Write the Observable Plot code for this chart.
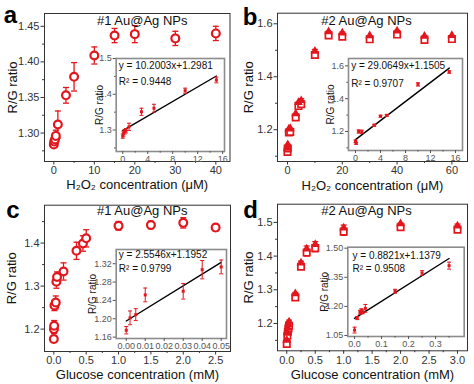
<!DOCTYPE html>
<html><head><meta charset="utf-8">
<script src="https://cdn.jsdelivr.net/npm/d3@7"></script>
<script src="https://cdn.jsdelivr.net/npm/@observablehq/plot@0.6"></script>
<style>
html,body{margin:0;padding:0;background:#fff;}
#fig{position:relative;width:474px;height:384px;overflow:hidden;background:#fff;}
</style></head><body><div id="fig"></div>
<script>
const RED = "#e3161d";
const FONT = '"Liberation Sans", Arial, Helvetica, sans-serif';

// ---------- Panel a : #1 Au@Ag NPs vs H2O2 ----------
const aX   = [0, 0.1, 0.3, 0.5, 1, 3, 5, 10, 15, 20, 30, 40];
const aY   = [1.284, 1.288, 1.291, 1.296, 1.312, 1.353, 1.379, 1.409, 1.437, 1.439, 1.433, 1.440];
const aErr = [0.004, 0.005, 0.006, 0.008, 0.019, 0.011, 0.02, 0.012, 0.01, 0.012, 0.01, 0.01];
const aInsetX   = [0, 0.1, 0.3, 0.5, 1, 3, 5, 10, 15];
const aInsetY   = [1.283, 1.290, 1.295, 1.298, 1.309, 1.351, 1.361, 1.410, 1.440];
const aInsetErr = [0.006, 0.007, 0.006, 0.006, 0.01, 0.01, 0.011, 0.007, 0.008];
const aFitSlope = 10.2003, aFitIntercept = 1.2981, aFitUnit = 0.001;
const aEq = ["y = 10.2003x+1.2981", "R² = 0.9448"];
const aXTicks = [0, 10, 20, 30, 40], aXMinor = [5, 15, 25, 35];
const aYTicks = [1.30, 1.35, 1.40, 1.45], aYMinor = [1.275, 1.325, 1.375, 1.425];
const aInXTicks = [0, 4, 8, 12, 16], aInXMinor = [2, 6, 10, 14];
const aInYTicks = [1.3, 1.4, 1.5], aInYMinor = [1.25, 1.35, 1.45];

// ---------- Panel b : #2 Au@Ag NPs vs H2O2 ----------
const bX   = [0, 0.1, 0.5, 1, 3, 4, 5, 10, 15, 20, 30, 40, 50, 60];
const bY   = [1.122, 1.135, 1.195, 1.197, 1.252, 1.295, 1.302, 1.488, 1.562, 1.557, 1.547, 1.565, 1.545, 1.548];
const bErr = [0.018, 0.01, 0.008, 0.008, 0.008, 0.01, 0.015, 0.015, 0.01, 0.012, 0.008, 0.01, 0.01, 0.006];
const bInsetX   = [0, 0.1, 0.5, 1, 3, 4, 5, 10, 15];
const bInsetY   = [1.140, 1.128, 1.200, 1.198, 1.238, 1.293, 1.298, 1.487, 1.563];
const bInsetErr = [0.008, 0.006, 0.01, 0.01, 0.006, 0.006, 0.006, 0.01, 0.008];
const bFitSlope = 29.0649, bFitIntercept = 1.1505, bFitUnit = 0.001;
const bEq = ["y = 29.0649x+1.1505", "R² = 0.9707"];
const bXTicks = [0, 20, 40, 60], bXMinor = [10, 30, 50];
const bYTicks = [1.2, 1.4, 1.6], bYMinor = [1.1, 1.3, 1.5];
const bInXTicks = [0, 4, 8, 12, 16], bInXMinor = [2, 6, 10, 14];
const bInYTicks = [1.2, 1.4, 1.6], bInYMinor = [1.1, 1.3, 1.5];

// ---------- Panel c : #1 Au@Ag NPs vs glucose ----------
const cX   = [0, 0.002, 0.005, 0.01, 0.03, 0.04, 0.05, 0.15, 0.35, 0.45, 0.5, 1.0, 1.5, 2.0, 2.5];
const cY   = [1.177, 1.200, 1.208, 1.255, 1.262, 1.310, 1.321, 1.334, 1.382, 1.399, 1.411, 1.440, 1.442, 1.447, 1.436];
const cErr = [0.008, 0.01, 0.012, 0.012, 0.015, 0.015, 0.012, 0.02, 0.02, 0.018, 0.02, 0.01, 0.009, 0.012, 0.008];
const cInsetX   = [0, 0.002, 0.005, 0.01, 0.03, 0.04, 0.05];
const cInsetY   = [1.175, 1.202, 1.209, 1.252, 1.260, 1.307, 1.313];
const cInsetErr = [0.008, 0.015, 0.013, 0.015, 0.017, 0.02, 0.015];
const cFitSlope = 2.5546, cFitIntercept = 1.1952, cFitUnit = 1;
const cEq = ["y = 2.5546x+1.1952", "R² = 0.9799"];
const cXTicks = [0, 0.5, 1.0, 1.5, 2.0, 2.5], cXMinor = [0.25, 0.75, 1.25, 1.75, 2.25];
const cYTicks = [1.2, 1.3, 1.4], cYMinor = [1.25, 1.35, 1.45];
const cInXTicks = [0, 0.01, 0.02, 0.03, 0.04, 0.05], cInXMinor = [];
const cInYTicks = [1.16, 1.20, 1.24, 1.28, 1.32], cInYMinor = [];

// ---------- Panel d : #2 Au@Ag NPs vs glucose ----------
const dX   = [0, 0.01, 0.02, 0.03, 0.04, 0.15, 0.25, 0.35, 0.5, 1.0, 2.0, 3.0];
const dY   = [1.144, 1.168, 1.180, 1.190, 1.198, 1.282, 1.373, 1.415, 1.428, 1.477, 1.490, 1.483];
const dErr = [0.008, 0.01, 0.012, 0.015, 0.012, 0.01, 0.012, 0.015, 0.015, 0.015, 0.008, 0.012];
const dInsetX   = [0, 0.01, 0.02, 0.025, 0.03, 0.04, 0.15, 0.25, 0.35];
const dInsetY   = [1.078, 1.140, 1.170, 1.176, 1.172, 1.190, 1.278, 1.372, 1.410];
const dInsetErr = [0.015, 0.008, 0.01, 0.012, 0.01, 0.02, 0.01, 0.012, 0.018];
const dFitSlope = 0.8821, dFitIntercept = 1.1379, dFitUnit = 1;
const dEq = ["y = 0.8821x+1.1379", "R² = 0.9508"];
const dXTicks = [0, 0.5, 1.0, 1.5, 2.0, 2.5, 3.0], dXMinor = [0.25, 0.75, 1.25, 1.75, 2.25, 2.75];
const dYTicks = [1.2, 1.3, 1.4, 1.5], dYMinor = [1.15, 1.25, 1.35, 1.45];
const dInXTicks = [0, 0.1, 0.2, 0.3], dInXMinor = [0.05, 0.15, 0.25, 0.35];
const dInYTicks = [1.05, 1.20, 1.35, 1.50], dInYMinor = [];

const titles = ["#1 Au@Ag NPs", "#2 Au@Ag NPs", "#1 Au@Ag NPs", "#2 Au@Ag NPs"];
const letters = ["a", "b", "c", "d"];
const xLabels = ["H₂O₂ concentration (μM)", "H₂O₂ concentration (μM)", "Glucose concentration (mM)", "Glucose concentration (mM)"];
const yLabel = "R/G ratio";

// ---------- helpers ----------
const rowsOf = (xs, ys, es) => xs.map((x, i) => ({x, y: ys[i], lo: ys[i] - es[i], hi: ys[i] + es[i]}));
const capSym = {draw(ctx, size) { const w = Math.sqrt(size / Math.PI); ctx.moveTo(-w, 0); ctx.lineTo(w, 0); }};
function errorMarks(rows, capR, sw) {
  return [
    Plot.ruleX(rows, {x: "x", y1: "lo", y2: "hi", stroke: RED, strokeWidth: sw}),
    Plot.dot(rows, {x: "x", y: "hi", symbol: capSym, r: capR, stroke: RED, strokeWidth: sw, fill: "none"}),
    Plot.dot(rows, {x: "x", y: "lo", symbol: capSym, r: capR, stroke: RED, strokeWidth: sw, fill: "none"})
  ];
}
function axisMarks(p, small) {
  const col = small ? "#555" : "#333";
  const fs = small ? 9 : 11;
  const ts = small ? 3 : 3.5;
  return [
    Plot.axisX(p.xMinor, {tickSize: ts * 0.55, tickFormat: () => "", color: col, label: null}),
    Plot.axisY(p.yMinor, {tickSize: ts * 0.55, tickFormat: () => "", color: col, label: null}),
    Plot.axisX(p.xTicks, {tickSize: ts, tickPadding: 1.5, tickFormat: p.xFmt, color: col, fontSize: fs, label: null}),
    Plot.axisY(p.yTicks, {tickSize: ts, tickPadding: 1.5, tickFormat: p.yFmt, color: col, fontSize: fs, label: null})
  ];
}
const fig = document.getElementById("fig");
function place(svg, left, top) {
  svg.style.position = "absolute";
  svg.style.left = left + "px";
  svg.style.top = top + "px";
  svg.style.background = "transparent";
  svg.style.overflow = "visible";
  fig.appendChild(svg);
}
const txt = d => d;

function mainPanel(p) {
  const rows = rowsOf(p.x, p.y, p.err);
  const markers = p.marker === "circle"
    ? [Plot.dot(rows, {x: "x", y: "y", r: 3.9, stroke: RED, strokeWidth: 2.2, fill: "#fff"})]
    : [Plot.dot(rows, {x: "x", y: "y", symbol: "square", r: 3.6, stroke: RED, strokeWidth: 1.7, fill: "#fff", dy: 1.5}),
       Plot.dot(rows, {x: "x", y: "y", symbol: "triangle", r: 3.3, fill: RED, dy: -2.2})];
  const svg = Plot.plot({
    width: p.w, height: p.h,
    marginTop: p.m[0], marginRight: p.m[1], marginBottom: p.m[2], marginLeft: p.m[3],
    x: {type: "linear", domain: p.xDomain},
    y: {type: "linear", domain: p.yDomain},
    style: {fontFamily: FONT, fontSize: "11px", background: "transparent", overflow: "visible"},
    marks: [
      Plot.frame({stroke: "#333", strokeWidth: 1}),
      ...axisMarks(p, false),
      ...errorMarks(rows, 3, 1.3),
      ...markers,
      Plot.text([p.title], {text: txt, frameAnchor: "top", lineAnchor: "middle", textAnchor: "middle", dx: p.titleDx, dy: p.titleDy, fontSize: 13, fill: "#111"}),
      Plot.text([p.letter], {text: txt, frameAnchor: "top-left", lineAnchor: "bottom", textAnchor: "middle", dx: p.letterDx, dy: p.letterDy, fontSize: 24, fontWeight: "bold", fill: "#000"}),
      Plot.text([p.xLabel], {text: txt, frameAnchor: "bottom", lineAnchor: "middle", textAnchor: "middle", dy: p.xLabelDy, fontSize: 13, fill: "#111"}),
      Plot.text([yLabel], {text: txt, frameAnchor: "left", lineAnchor: "middle", textAnchor: "middle", rotate: -90, dx: p.yLabelDx, fontSize: 13, fill: "#111"})
    ]
  });
  place(svg, p.left, p.top);
}

function insetPanel(p) {
  const rows = rowsOf(p.x, p.y, p.err);
  const x0 = d3.min(p.x), x1 = d3.max(p.x);
  const fit = [x0, x1].map(x => ({x, y: p.intercept + p.slope * x * p.unit}));
  const svg = Plot.plot({
    width: p.w, height: p.h,
    marginTop: p.m[0], marginRight: p.m[1], marginBottom: p.m[2], marginLeft: p.m[3],
    x: {type: "linear", domain: p.xDomain},
    y: {type: "linear", domain: p.yDomain},
    style: {fontFamily: FONT, fontSize: "9px", background: "transparent", overflow: "visible"},
    marks: [
      Plot.frame({fill: "#fff", stroke: "#8c8c8c", strokeWidth: 1.6}),
      ...axisMarks(p, true),
      Plot.line(fit, {x: "x", y: "y", stroke: "#000", strokeWidth: 1.4}),
      ...errorMarks(rows, 2, 1),
      Plot.dot(rows, {x: "x", y: "y", symbol: "square", r: 1.7, fill: RED}),
      Plot.text([p.eq[0]], {text: txt, frameAnchor: "top-left", textAnchor: "start", lineAnchor: "middle", dx: p.eqDx, dy: p.eqDy[0], fontSize: 10, fill: "#111"}),
      Plot.text([p.eq[1]], {text: txt, frameAnchor: "top-left", textAnchor: "start", lineAnchor: "middle", dx: p.eqDx, dy: p.eqDy[1], fontSize: 10, fill: "#111"}),
      Plot.text([yLabel], {text: txt, frameAnchor: "left", lineAnchor: "middle", textAnchor: "middle", rotate: -90, dx: p.yLabelDx, fontSize: 10, fill: "#111"})
    ]
  });
  place(svg, p.left, p.top);
}

const f0 = d3.format("d"), f1 = d3.format(".1f"), f2 = d3.format(".2f");

// ---------- main panels ----------
mainPanel({left: 0, top: 0, w: 237, h: 192, m: [13, 7.5, 31, 44],
  x: aX, y: aY, err: aErr, xDomain: [-2.3, 43.5], yDomain: [1.26, 1.468],
  xTicks: aXTicks, xMinor: aXMinor, yTicks: aYTicks, yMinor: aYMinor, xFmt: f0, yFmt: f2,
  marker: "circle", title: titles[0], titleDx: 5, titleDy: 7, letter: letters[0], letterDx: -34, letterDy: 9,
  xLabel: xLabels[0], xLabelDy: 23, yLabelDx: -32});
mainPanel({left: 237, top: 0, w: 237, h: 192, m: [12.7, 7, 31, 40],
  x: bX, y: bY, err: bErr, xDomain: [-3.65, 65.7], yDomain: [1.08, 1.64],
  xTicks: bXTicks, xMinor: bXMinor, yTicks: bYTicks, yMinor: bYMinor, xFmt: f0, yFmt: f1,
  marker: "tri", title: titles[1], titleDx: -6, titleDy: 8, letter: letters[1], letterDx: -27.5, letterDy: 11.5,
  xLabel: xLabels[1], xLabelDy: 24, yLabelDx: -28.3});
mainPanel({left: 0, top: 192, w: 237, h: 192, m: [12.7, 7, 33, 44],
  x: cX, y: cY, err: cErr, xDomain: [-0.144, 2.73], yDomain: [1.148, 1.488],
  xTicks: cXTicks, xMinor: cXMinor, yTicks: cYTicks, yMinor: cYMinor, xFmt: f1, yFmt: f1,
  marker: "circle", title: titles[2], titleDx: 4.7, titleDy: 5.6, letter: letters[2], letterDx: -31.5, letterDy: 12.3,
  xLabel: xLabels[2], xLabelDy: 23.7, yLabelDx: -32.3});
mainPanel({left: 237, top: 192, w: 237, h: 192, m: [11.7, 7, 33.7, 40],
  x: dX, y: dY, err: dErr, xDomain: [-0.163, 3.176], yDomain: [1.119, 1.554],
  xTicks: dXTicks, xMinor: dXMinor, yTicks: dYTicks, yMinor: dYMinor, xFmt: f1, yFmt: f1,
  marker: "tri", title: titles[3], titleDx: -6, titleDy: 6.6, letter: letters[3], letterDx: -27, letterDy: 13.3,
  xLabel: xLabels[3], xLabelDy: 24.4, yLabelDx: -28.3});

// ---------- insets ----------
insetPanel({left: 90, top: 45, w: 140, h: 125, m: [13, 6, 19, 25.7],
  x: aInsetX, y: aInsetY, err: aInsetErr, xDomain: [-1.05, 16.3], yDomain: [1.24, 1.5],
  xTicks: aInXTicks, xMinor: aInXMinor, yTicks: aInYTicks, yMinor: aInYMinor, xFmt: f0, yFmt: f1,
  slope: aFitSlope, intercept: aFitIntercept, unit: aFitUnit, eq: aEq, eqDx: 2.6, eqDy: [7, 23.7], yLabelDx: -16.7});
insetPanel({left: 315, top: 45, w: 155, h: 125, m: [13, 8, 20, 33],
  x: bInsetX, y: bInsetY, err: bInsetErr, xDomain: [-1.12, 17.12], yDomain: [1.084, 1.645],
  xTicks: bInXTicks, xMinor: bInXMinor, yTicks: bInYTicks, yMinor: bInYMinor, xFmt: f0, yFmt: f1,
  slope: bFitSlope, intercept: bFitIntercept, unit: bFitUnit, eq: bEq, eqDx: 2.7, eqDy: [7.7, 25.3], yLabelDx: -18});
insetPanel({left: 85, top: 235, w: 150, h: 125, m: [14, 9, 22, 30.7],
  x: cInsetX, y: cInsetY, err: cInsetErr, xDomain: [-0.0053, 0.0528], yDomain: [1.157, 1.351],
  xTicks: cInXTicks, xMinor: cInXMinor, yTicks: cInYTicks, yMinor: cInYMinor, xFmt: f2, yFmt: f2,
  slope: cFitSlope, intercept: cFitIntercept, unit: cFitUnit, eq: cEq, eqDx: 2.6, eqDy: [5, 19], yLabelDx: -23});
insetPanel({left: 315, top: 235, w: 155, h: 125, m: [11.7, 6.3, 24, 32.3],
  x: dInsetX, y: dInsetY, err: dInsetErr, xDomain: [-0.025, 0.406], yDomain: [1.045, 1.505],
  xTicks: dInXTicks, xMinor: dInXMinor, yTicks: dInYTicks, yMinor: dInYMinor, xFmt: f1, yFmt: f2,
  slope: dFitSlope, intercept: dFitIntercept, unit: dFitUnit, eq: dEq, eqDx: 4.7, eqDy: [8.6, 22], yLabelDx: -23});
</script></body></html>
